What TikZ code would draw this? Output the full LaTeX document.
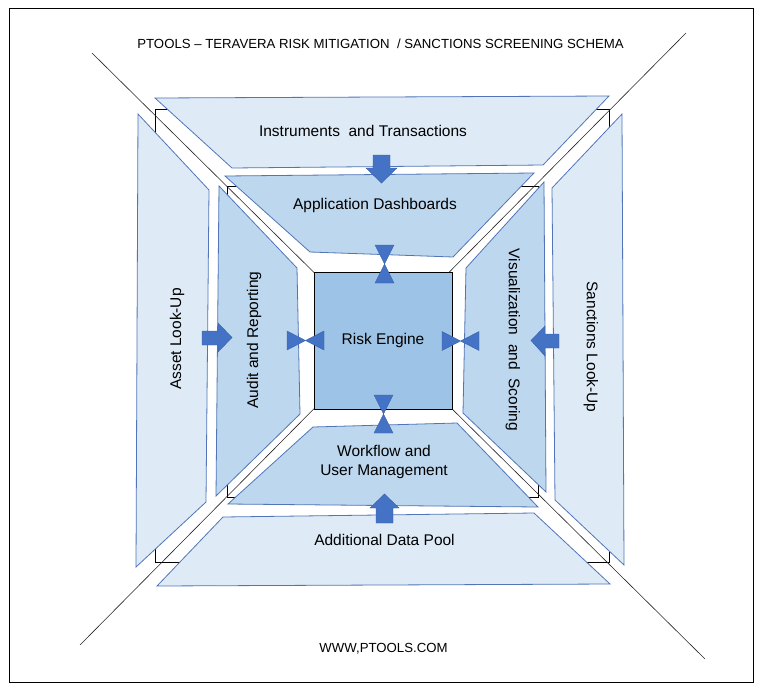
\documentclass[tikz,border=0pt]{standalone}
\usepackage{fontspec}
\setmainfont{Liberation Sans}
\definecolor{outerfill}{HTML}{DEEBF7}
\definecolor{innerfill}{HTML}{BDD7EE}
\definecolor{enginefill}{HTML}{9DC3E6}
\definecolor{faceline}{HTML}{5175B8}
\definecolor{arrowblue}{HTML}{4472C4}

\begin{document}
\begin{tikzpicture}[x=1pt, y=-1pt,
  outerface/.style={fill=outerfill, draw=faceline, line width=0.8pt},
  innerface/.style={fill=innerfill, draw=faceline, line width=0.8pt},
  blockarrow/.style={fill=arrowblue, draw=arrowblue!85!black, line width=0.4pt},
  facelabel/.style={font=\fontsize{15.5}{18.5}\selectfont, align=center, inner sep=0pt},
  smalltext/.style={font=\fontsize{13.2}{15}\selectfont, inner sep=0pt}]

\useasboundingbox (0,0) rectangle (766,691);
\draw[line width=0.8pt] (9,8) rectangle (753,682);

% Title and footer
\node[smalltext] (title) at (380.5,44) {PTOOLS -- TERAVERA RISK MITIGATION \ / SANCTIONS SCREENING SCHEMA};
\node[smalltext] (footer) at (383.5,649) {WWW,PTOOLS.COM};

% Frame squares (mostly hidden) and diagonals
\draw[line width=0.8pt] (155.5,109.5) rectangle (609.3,562.3);
\draw[line width=0.8pt] (227.3,186.7) rectangle (538.8,497.7);
\draw[line width=0.6pt, black!85] (92,53) -- (705,659);
\draw[line width=0.6pt, black!85] (686,33) -- (80,645);

% Outer faces
\draw[outerface] (155,98) -- (609,96) -- (543,165) -- (232,168) -- cycle;
\draw[outerface] (138,114) -- (209,190) -- (206,502) -- (136,567) -- cycle;
\draw[outerface] (622,114) -- (624,565) -- (555,500) -- (552,188) -- cycle;
\draw[outerface] (223,517) -- (534,513) -- (610,584) -- (157,586) -- cycle;

% Inner faces
\draw[innerface] (225,176) -- (534,173) -- (453,257) -- (310,252) -- cycle;
\draw[innerface] (219,186) -- (297,268) -- (300,414) -- (216,496) -- cycle;
\draw[innerface] (544,182) -- (546,492) -- (463,413) -- (466,268) -- cycle;
\draw[innerface] (313,427) -- (457,423) -- (538,507) -- (228,504) -- cycle;

% Centre
\node[draw, line width=0.8pt, fill=enginefill, minimum width=138pt, minimum height=137pt, facelabel] (engine) at (383,340.5) {Risk Engine};

% Face labels
\node[facelabel] (instr) at (363,131) {Instruments\ \ and Transactions};
\node[facelabel] (dash) at (375,205) {Application Dashboards};
\node[facelabel] (workflow) at (384,462) {Workflow and\\User Management};
\node[facelabel] (pool) at (384.5,540) {Additional Data Pool};
\node[facelabel, rotate=90] (asset) at (177,339) {Asset Look-Up};
\node[facelabel, rotate=90] (audit) at (254,340) {Audit and Reporting};
\node[facelabel, rotate=-90] (visual) at (513,340) {Visualization\ \ and\ \ Scoring};
\node[facelabel, rotate=-90] (sanct) at (591,347) {Sanctions Look-Up};

% Block arrows from outer to inner faces
\draw[blockarrow] (373,155) -- (390,155) -- (390,168) -- (397,168) -- (381.5,183) -- (366,168) -- (373,168) -- cycle;
\draw[blockarrow] (376,523) -- (393,523) -- (393,508) -- (399,508) -- (384.5,494) -- (370,508) -- (376,508) -- cycle;
\draw[blockarrow] (202,331) -- (218,331) -- (218,323) -- (232,337.5) -- (218,352) -- (218,345) -- (202,345) -- cycle;
\draw[blockarrow] (559,334) -- (545,334) -- (545,326) -- (531,340.5) -- (545,356) -- (545,348) -- (559,348) -- cycle;

% Two-way links to the engine
\draw[blockarrow] (375,245) -- (394,245) -- (384.5,264) -- cycle;
\draw[blockarrow] (375,283) -- (394,283) -- (384.5,264) -- cycle;
\draw[blockarrow] (374,395) -- (393,395) -- (383.5,414) -- cycle;
\draw[blockarrow] (374,433) -- (393,433) -- (383.5,414) -- cycle;
\draw[blockarrow] (287,331) -- (287,350) -- (305.5,340.5) -- cycle;
\draw[blockarrow] (324,331) -- (324,350) -- (305.5,340.5) -- cycle;
\draw[blockarrow] (442,331.5) -- (442,350.5) -- (460.5,341) -- cycle;
\draw[blockarrow] (479,331.5) -- (479,350.5) -- (460.5,341) -- cycle;

\end{tikzpicture}
\end{document}
